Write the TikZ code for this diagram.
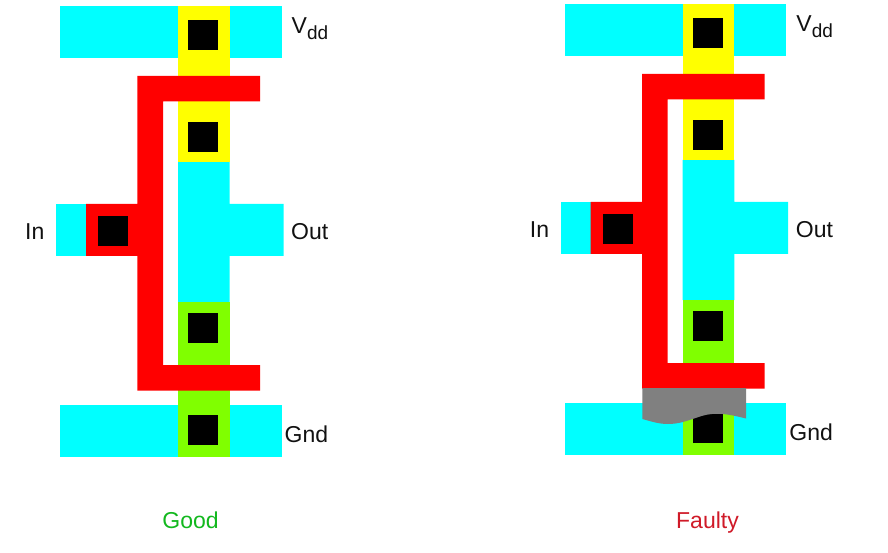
\documentclass[tikz,border=0pt]{standalone}
\usepackage{fontspec}
\setmainfont{Liberation Sans}
\definecolor{diff}{HTML}{00FFFF}
\definecolor{ptype}{HTML}{FFFF00}
\definecolor{ntype}{HTML}{80FF00}
\definecolor{poly}{HTML}{FF0000}
\definecolor{defect}{HTML}{808080}
\definecolor{goodtxt}{HTML}{12B81E}
\definecolor{faultytxt}{HTML}{D01A28}
\definecolor{labeltxt}{HTML}{111111}
\tikzset{
  diffusion/.style={fill=diff},
  pwell/.style={fill=ptype},
  nwell/.style={fill=ntype},
  gate/.style={fill=poly},
  contact/.style={fill=black},
  lab/.style={font=\fontsize{23pt}{25pt}\selectfont,text=labeltxt,inner sep=0pt,anchor=base west},
  caption/.style={font=\fontsize{23pt}{25pt}\selectfont,inner sep=0pt,anchor=base},
}
\newcommand{\layout}{%
  \fill[diffusion] (60,6) rectangle (281.5,58);
  \fill[diffusion] (60,405) rectangle (281.5,457);
  \fill[diffusion] (178,162) -- (229.7,162) -- (229.7,204) -- (283.5,204) -- (283.5,256) -- (229.7,256) -- (229.7,302) -- (178,302) -- cycle;
  \fill[diffusion] (56,204) rectangle (86.5,256);
  \fill[pwell] (178,6) rectangle (229.7,162);
  \fill[nwell] (178,302) rectangle (229.7,457);
  \fill[gate] (137.3,76) -- (260,76) -- (260,101.5) -- (163,101.5) -- (163,365) -- (260,365) -- (260,390.5) -- (137.3,390.5) -- (137.3,256) -- (86,256) -- (86,204) -- (137.3,204) -- cycle;
  \fill[contact] (188,20) rectangle (218,50);
  \fill[contact] (188,122) rectangle (218,152);
  \fill[contact] (98,216) rectangle (128,246);
  \fill[contact] (188,313) rectangle (218,343);
  \fill[contact] (188,415) rectangle (218,445);
  \node[lab] (vdd\pfx) at (291.5,33.5) {V\raisebox{-6.5pt}{\fontsize{19pt}{21pt}\selectfont dd}};
  \node[lab] (in\pfx) at (25,239.5) {In};
  \node[lab] (out\pfx) at (291,239.5) {Out};
  \node[lab] (gnd\pfx) at (284.5,442.5) {Gnd};
}
\begin{document}
\begin{tikzpicture}[x=1pt,y=-1pt]
\useasboundingbox (0,0) rectangle (888,553);
\fill[white] (0,0) rectangle (888,553);
\def\pfx{L}
\begin{scope}
  \layout
  \node[caption,text=goodtxt] (good) at (190.5,528) {Good};
\end{scope}
\def\pfx{R}
\begin{scope}[shift={(504.7,-2)}]
  \layout
\end{scope}
\node[caption,text=faultytxt] (faulty) at (707.5,528) {Faulty};
\fill[defect] (642.3,388) -- (746,388) -- (746,418.5)
  .. controls (732,415) and (722,413) .. (712,414)
  .. controls (698,415) and (686,424) .. (668,424)
  .. controls (658,424) and (650,421) .. (642.3,419) -- cycle;
\end{tikzpicture}
\end{document}
